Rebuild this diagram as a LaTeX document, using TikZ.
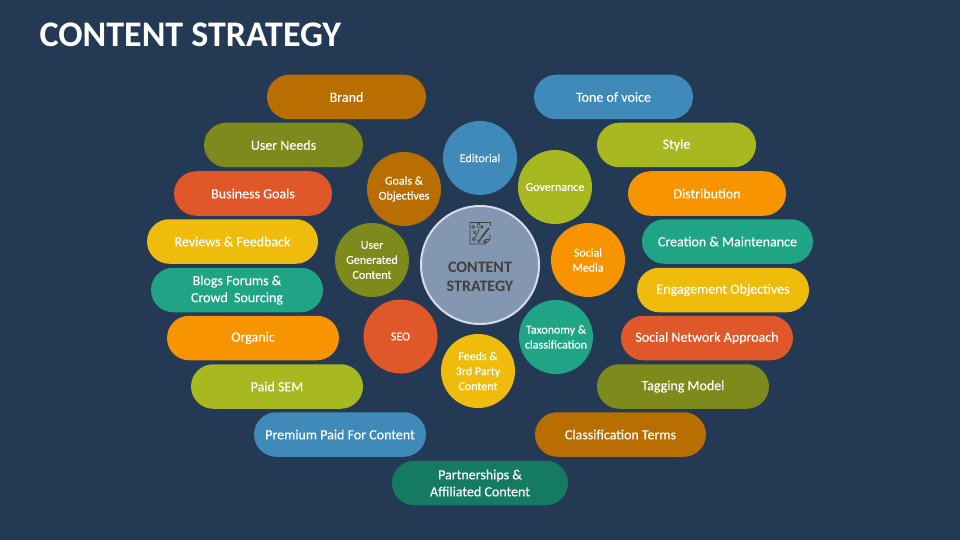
\documentclass[tikz,border=0pt]{standalone}
\usepackage{fontspec}
\setmainfont{Carlito}
\newfontfamily\labelfont[FakeBold=0.3]{Carlito}
\usetikzlibrary{shapes.misc}
\definecolor{bgblue}{HTML}{243A54}
\definecolor{cbrown}{HTML}{B86E00}
\definecolor{colive}{HTML}{7D8A1C}
\definecolor{cred}{HTML}{E0582A}
\definecolor{cyellow}{HTML}{F0BC0C}
\definecolor{cteal}{HTML}{1FA585}
\definecolor{corange}{HTML}{F79400}
\definecolor{clime}{HTML}{A8B820}
\definecolor{cblue}{HTML}{3F8AB8}
\definecolor{cgreen}{HTML}{157A62}
\definecolor{chub}{HTML}{8497B0}
\definecolor{cring}{HTML}{D6DCE5}
\definecolor{cicon}{HTML}{404040}
\tikzset{
  pill/.style={rounded rectangle, minimum height=44.5pt, inner sep=0pt, text=white,
      align=center, font=\labelfont\fontsize{14}{17}\selectfont},
  spoke/.style={circle, minimum size=74pt, inner sep=0pt, text=white,
      align=center, font=\labelfont\fontsize{12}{15}\selectfont},
  hub/.style={circle, draw=cring, line width=2pt, fill=chub, minimum size=118pt, inner sep=0pt},
  iconline/.style={draw=cicon, line width=0.7pt}
}
\begin{document}
\begin{tikzpicture}[x=1pt, y=-1pt]
    \useasboundingbox (0,0) rectangle (960,540);
    \fill [bgblue] (0,0) rectangle (960,540);
    \node [anchor=west, text=white, font=\fontsize{36}{40}\selectfont\bfseries] (title) at (36,34.5) {CONTENT STRATEGY};
    % left side pills
    \node [pill, fill=cbrown, minimum width=159pt] (brand) at (346.5,97) {Brand};
    \node [pill, fill=colive, minimum width=159pt] (needs) at (283.5,145) {User Needs};
    \node [pill, fill=cred, minimum width=158pt] (goals) at (253,193.5) {Business Goals};
    \node [pill, fill=cyellow, minimum width=171pt] (reviews) at (232.5,241.5) {Reviews \& Feedback};
    \node [pill, fill=cteal, minimum width=172pt] (blogs) at (237,290) {Blogs Forums \&\\Crowd\ \ Sourcing};
    \node [pill, fill=corange, minimum width=172pt] (organic) at (253,338) {Organic};
    \node [pill, fill=clime, minimum width=172pt] (paid) at (277,386.5) {Paid SEM};
    \node [pill, fill=cblue, minimum width=172pt] (premium) at (340,434.5) {Premium Paid For Content};
    \node [pill, fill=cgreen, minimum width=176pt] (partners) at (480,483) {Partnerships \&\\Affiliated Content};
    % right side pills
    \node [pill, fill=cblue, minimum width=159pt] (tone) at (613.5,97) {Tone of voice};
    \node [pill, fill=clime, minimum width=159pt] (style) at (676.5,145) {Style};
    \node [pill, fill=corange, minimum width=158pt] (distribution) at (707,193.5) {Distribution};
    \node [pill, fill=cteal, minimum width=171pt] (creation) at (727.5,241.5) {Creation \& Maintenance};
    \node [pill, fill=cyellow, minimum width=172pt] (engagement) at (723,290) {Engagement Objectives};
    \node [pill, fill=cred, minimum width=172pt] (network) at (707,338) {Social Network Approach};
    \node [pill, fill=colive, minimum width=172pt] (tagging) at (683,386.5) {Tagging Model};
    \node [pill, fill=cbrown, minimum width=171pt] (terms) at (620.5,434.5) {Classification Terms};
    % circles round the hub
    \node [spoke, fill=cblue] (editorial) at (480,158) {Editorial};
    \node [spoke, fill=clime] (governance) at (555,187) {Governance};
    \node [spoke, fill=corange] (social) at (588,260) {Social\\Media};
    \node [spoke, fill=cteal] (taxonomy) at (556,337) {Taxonomy \&\\classification};
    \node [spoke, fill=cyellow] (feeds) at (478,371) {Feeds \&\\3rd Party\\Content};
    \node [spoke, fill=cred] (seo) at (400.5,336.5) {SEO};
    \node [spoke, fill=colive] (generated) at (372,260) {User\\Generated\\Content};
    \node [spoke, fill=cbrown] (objectives) at (404,189) {Goals \&\\Objectives};
    % hub with its icon
    \node [hub] (hub) at (480,265) {};
    \node [text=cicon, align=center, font=\fontsize{16}{19}\selectfont\bfseries] (hubtext) at (480,277) {CONTENT\\STRATEGY};
    \draw [iconline] (470,222) -- (470,244) -- (485,244) -- (490,239) -- (490,234);
    \draw [iconline] (490,226) -- (490,222) -- (470,222);
    \draw [iconline] (485,244) -- (485,239) -- (490,239);
    \draw [iconline] (473,227) circle (1.5pt) (474,239) circle (1.6pt) (479,241) circle (1.4pt);
    \draw [iconline] (476,227) -- (483,227) (481,225.5) -- (483,227) -- (481,228.5);
    \draw [iconline] (477,222.5) -- (480,225) (480,222.5) -- (477,225);
    \draw [iconline] (473,231) -- (476,234) (476,231) -- (473,234);
    \draw [iconline] (483,240) -- (486,243) (486,240) -- (483,243);
    \draw [iconline] (475,237) .. controls (478,234) and (478,232) .. (479,229);
    \draw [iconline, line width=1.6pt] (481,238) -- (489,228);
    \draw [iconline] (480,240) -- (481,238);
\end{tikzpicture}
\end{document}
